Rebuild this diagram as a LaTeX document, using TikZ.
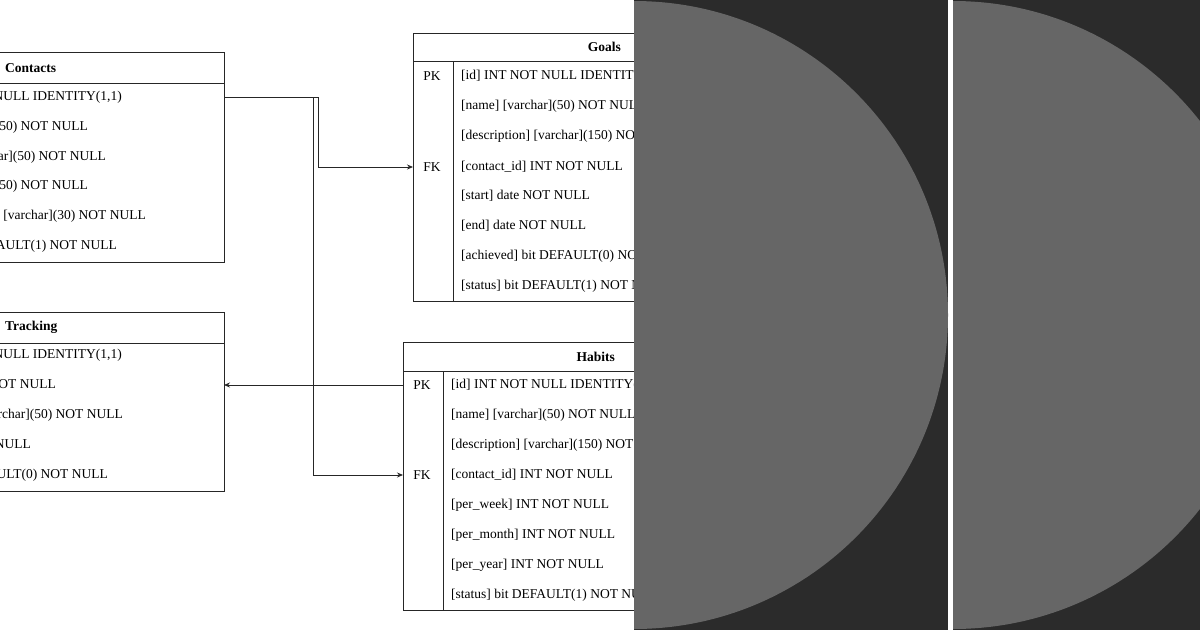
\documentclass[tikz,border=0pt]{standalone}
\usepackage{fontspec}
\setmainfont{Liberation Serif}
\usetikzlibrary{arrows.meta,positioning}
\definecolor{panel}{HTML}{2B2B2B}
\definecolor{disc}{HTML}{666666}
\begin{document}
\begin{tikzpicture}[x=1pt,y=-1pt,
	every node/.style={inner sep=0pt,font=\fontsize{13.5}{15}\selectfont},
	field/.style={anchor=west},
	rfield/.style={anchor=east},
	head/.style={font=\fontsize{13.5}{15}\selectfont\bfseries},
	box/.style={draw=black!85,line width=0.8pt},
	link/.style={draw=black!85,line width=0.8pt,-{Stealth[length=6pt,width=5pt]}}]
	\useasboundingbox (0,0) rectangle (1200,630);
	\begin{scope}
	\clip (0,0) rectangle (1200,630);
	% Contacts
	\draw[box] (-20,52) rectangle (224,262);
	\draw[box] (-20,83) -- (224,83);
	\node[head,anchor=west] (contacts) at (5,68) {Contacts};
	\node[rfield] (c1) at (122,97) {[id] INT NOT NULL IDENTITY(1,1)};
	\node[rfield] (c2) at (88,127) {[name] [varchar](50) NOT NULL};
	\node[rfield] (c3) at (106,157) {[surname] [varchar](50) NOT NULL};
	\node[rfield] (c4) at (88,186) {[email] [varchar](50) NOT NULL};
	\node[rfield] (c5) at (146,216) {[phone] [varchar](30) NOT NULL};
	\node[rfield] (c6) at (117,246) {[status] bit DEFAULT(1) NOT NULL};
	\coordinate (cid) at (224,97);
	% Tracking
	\draw[box] (-20,312) rectangle (224,491);
	\draw[box] (-20,343) -- (224,343);
	\node[head,anchor=west] (tracking) at (5,327) {Tracking};
	\node[rfield] (t1) at (122,355) {[id] INT NOT NULL IDENTITY(1,1)};
	\node[rfield] (t2) at (56,385) {[habit\_id] INT NOT NULL};
	\node[rfield] (t3) at (123,415) {[note] [varchar](50) NOT NULL};
	\node[rfield] (t4) at (31,445) {[day] date NOT NULL};
	\node[rfield] (t5) at (108,475) {[done] bit DEFAULT(0) NOT NULL};
	\coordinate (tfk) at (224,385);
	% Goals
	\draw[box] (413,33) rectangle (700,301);
	\draw[box] (413,61) -- (700,61);
	\draw[box] (453,61) -- (453,301);
	\node[head,anchor=east] (goals) at (621,47) {Goals};
	\node (gpk) at (432,76) {PK};
	\node (gfk) at (432,167) {FK};
	\node[field] (g1) at (461,76) {[id] INT NOT NULL IDENTITY(1,1)};
	\node[field] (g2) at (461,106) {[name] [varchar](50) NOT NULL};
	\node[field] (g3) at (461,136) {[description] [varchar](150) NOT NULL};
	\node[field] (g4) at (461,167) {[contact\_id] INT NOT NULL};
	\node[field] (g5) at (461,196) {[start] date NOT NULL};
	\node[field] (g6) at (461,226) {[end] date NOT NULL};
	\node[field] (g7) at (461,256) {[achieved] bit DEFAULT(0) NOT NULL};
	\node[field] (g8) at (461,286) {[status] bit DEFAULT(1) NOT NULL};
	\coordinate (gin) at (413,167);
	% Habits
	\draw[box] (403,342) rectangle (700,610);
	\draw[box] (403,371) -- (700,371);
	\draw[box] (443,371) -- (443,610);
	\node[head,anchor=east] (habits) at (615,357) {Habits};
	\node (hpk) at (422,385) {PK};
	\node (hfk) at (422,475) {FK};
	\node[field] (h1) at (451,385) {[id] INT NOT NULL IDENTITY(1,1)};
	\node[field] (h2) at (451,415) {[name] [varchar](50) NOT NULL};
	\node[field] (h3) at (451,445) {[description] [varchar](150) NOT NULL};
	\node[field] (h4) at (451,475) {[contact\_id] INT NOT NULL};
	\node[field] (h5) at (451,505) {[per\_week] INT NOT NULL};
	\node[field] (h6) at (451,535) {[per\_month] INT NOT NULL};
	\node[field] (h7) at (451,565) {[per\_year] INT NOT NULL};
	\node[field] (h8) at (451,595) {[status] bit DEFAULT(1) NOT NULL};
	\coordinate (hin) at (403,475);
	\coordinate (hpkin) at (403,385);
	% relations
	\draw[link] (cid) -| (318,167) -- (gin);
	\draw[link] (cid) -| (313,475) -- (hin);
	\draw[link] (hpkin) -- (tfk);
	% panels
	\fill[white] (634,0) rectangle (1200,630);
	\fill[panel] (634,0) rectangle (948,630);
	\fill[panel] (953,0) rectangle (1200,630);
	\begin{scope}
	\clip (634,0) rectangle (948,630);
	\fill[disc] (634,315) circle (314);
	\end{scope}
	\begin{scope}
	\clip (953,0) rectangle (1200,630);
	\fill[disc] (953,315) circle (314);
	\end{scope}
	\end{scope}
\end{tikzpicture}
\end{document}
